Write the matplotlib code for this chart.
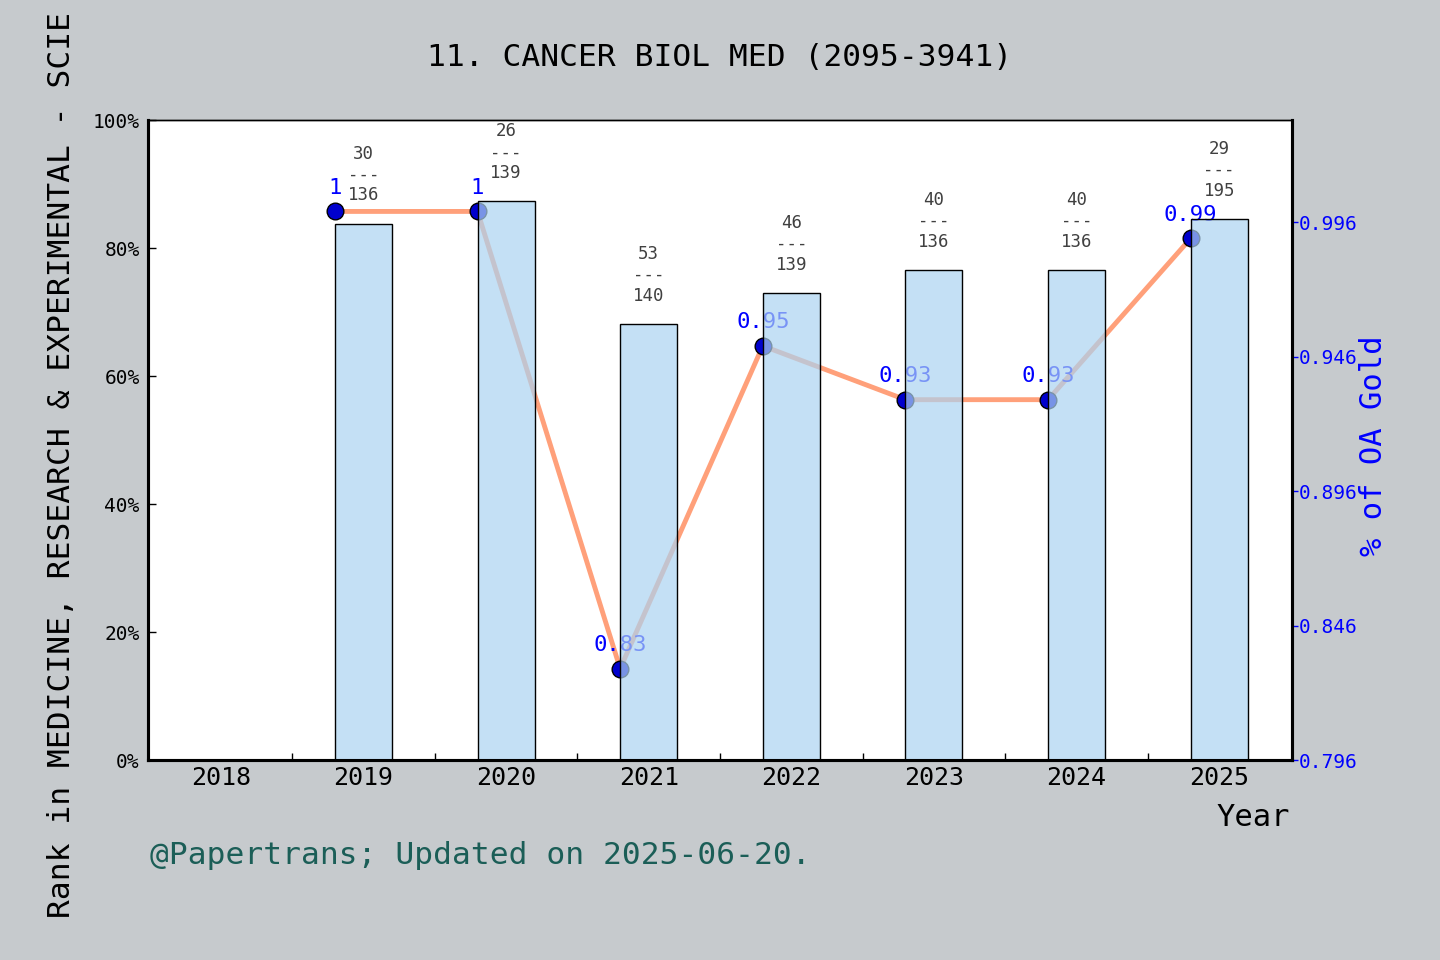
import matplotlib.pyplot as plt
from matplotlib.ticker import FixedLocator, FuncFormatter

years = [2018, 2019, 2020, 2021, 2022, 2023, 2024, 2025]
bar_years = [2019, 2020, 2021, 2022, 2023, 2024, 2025]
rank_pct = [83.8, 87.3, 68.1, 73.0, 76.6, 76.6, 84.5]
ranks = [30, 26, 53, 46, 40, 40, 29]
totals = [136, 139, 140, 139, 136, 136, 195]
oa_gold = [1.0, 1.0, 0.83, 0.95, 0.93, 0.93, 0.99]
oa_labels = ['1', '1', '0.83', '0.95', '0.93', '0.93', '0.99']
right_ticks = [0.796, 0.846, 0.896, 0.946, 0.996]

mono = 'DejaVu Sans Mono'
bg = '#c6cacd'

fig = plt.figure(figsize=(14.4, 9.6), dpi=100, facecolor=bg)
ax = fig.add_axes([0.1028, 0.2083, 0.7944, 0.6667])
ax2 = ax.twinx()

# bars on the top axes so they cover the line
ax.set_zorder(2)
ax.patch.set_visible(False)
ax2.set_zorder(1)
ax2.patch.set_visible(True)
ax2.set_facecolor('white')

ax.bar(bar_years, rank_pct, width=0.4, color=(172/255, 211/255, 241/255, 0.7),
       edgecolor='black', linewidth=1)
for x, h, r, t in zip(bar_years, rank_pct, ranks, totals):
    ax.text(x, h + 3, f'{r}\n---\n{t}', ha='center', va='bottom',
            fontsize=12.5, color='#404040', family=mono, linespacing=1.2)

line_x = [x - 0.2 for x in bar_years]
ax2.plot(line_x, oa_gold, color='lightsalmon', lw=3.5, marker='o',
         markersize=12, markerfacecolor='mediumblue', markeredgecolor='black',
         markeredgewidth=1)
for x, v, s in zip(line_x, oa_gold, oa_labels):
    ax2.text(x, v + 0.005, s, ha='center', va='bottom', fontsize=16,
             color='blue', family=mono)

ax.set_xlim(2017.49, 2025.51)
ax.set_ylim(0, 100)
ax2.set_ylim(0.796, 1.034)

ax.set_yticks([0, 20, 40, 60, 80, 100])
ax.yaxis.set_major_formatter(FuncFormatter(lambda v, p: f'{v:.0f}%'))
ax.tick_params(axis='y', direction='in', length=6, width=1, labelsize=14,
               pad=6)
for lab in ax.get_yticklabels():
    lab.set_family(mono)

ax.xaxis.set_major_locator(FixedLocator([y + 0.5 for y in years[:-1]]))
ax.xaxis.set_major_formatter(FuncFormatter(lambda v, p: ''))
ax.xaxis.set_minor_locator(FixedLocator(years))
ax.xaxis.set_minor_formatter(FuncFormatter(lambda v, p: f'{v:.0f}'))
ax.tick_params(axis='x', which='major', direction='in', length=5, width=1)
ax.tick_params(axis='x', which='minor', length=0, labelsize=18, pad=4)
for lab in ax.get_xticklabels(minor=True):
    lab.set_family(mono)

ax2.set_yticks(right_ticks)
ax2.yaxis.set_major_formatter(FuncFormatter(lambda v, p: f'{v:.3f}'))
ax2.tick_params(axis='y', direction='out', length=4, width=1, colors='blue',
                labelsize=14, pad=1)
for lab in ax2.get_yticklabels():
    lab.set_family(mono)

for a in (ax, ax2):
    a.spines['left'].set_linewidth(2.2)
    a.spines['bottom'].set_linewidth(2.2)
    a.spines['right'].set_linewidth(2.2)
    a.spines['top'].set_linewidth(1)

fig.text(0.5, 1 - 57 / 960, '11. CANCER BIOL MED (2095-3941)', ha='center',
         va='center', fontsize=22.5, family=mono)
fig.text(62 / 1440, 1 - 465 / 960,
         'Rank in MEDICINE, RESEARCH & EXPERIMENTAL - SCIE', rotation=90,
         ha='center', va='center', fontsize=22.5, family=mono)
fig.text(1374 / 1440, 1 - 446 / 960, '% of OA Gold', rotation=90,
         ha='center', va='center', fontsize=22, family=mono, color='blue')
fig.text(1290 / 1440, 1 - 817 / 960, 'Year', ha='right', va='center',
         fontsize=22, family=mono)
fig.text(150 / 1440, 1 - 855 / 960, '@Papertrans; Updated on 2025-06-20.',
         ha='left', va='center', fontsize=22.5, family=mono, color='#1b5e57')

fig.savefig('out.png', dpi=100, facecolor=bg)
